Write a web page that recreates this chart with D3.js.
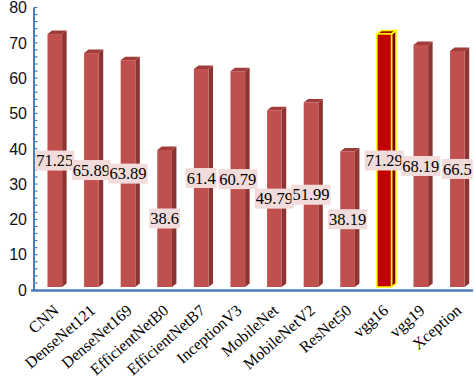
<!DOCTYPE html>
<html><head><meta charset="utf-8">
<script src="https://cdn.jsdelivr.net/npm/d3@7"></script>
<style>body{margin:0;background:#fff}svg{display:block}</style>
</head><body>
<script>
const categories = ["CNN","DenseNet121","DenseNet169","EfficientNetB0","EfficientNetB7","InceptionV3","MobileNet","MobileNetV2","ResNet50","vgg16","vgg19","Xception"];
const values = [71.25,65.89,63.89,38.6,61.4,60.79,49.79,51.99,38.19,71.29,68.19,66.5];
const labels = ["71.25","65.89","63.89","38.6","61.4","60.79","49.79","51.99","38.19","71.29","68.19","66.5"];
const highlight = ["vgg16"];
const yTicks = [0,10,20,30,40,50,60,70,80];

const W = 474, H = 380;
const svg = d3.select("body").append("svg").attr("width", W).attr("height", H);

const x = d3.scaleBand().domain(categories).range([36.5, 36.5 + 12*36.6]).paddingInner(0.6).paddingOuter(0.3);
const yAxisScale = d3.scaleLinear().domain([0,80]).range([290, 7.5]);
const yBar = d3.scaleLinear().domain([0,80]).range([287, 3]);

const dx = 4.5, dy = 3.5;
const g = svg.append("g");
categories.forEach((c,i)=>{
  const v = values[i];
  const x0 = x(c), bw = x.bandwidth();
  const yt = yBar(v), yb = yBar(0);
  const hl = highlight.includes(c);
  const front = hl ? "#c00000" : "#c0504d";
  const side = hl ? "#7a0000" : "#8c3432";
  const top = hl ? "#a00000" : "#a03c3a";
  g.append("path").attr("d", `M${x0+bw},${yt} L${x0+bw+dx},${yt-dy} L${x0+bw+dx},${yb-dy} L${x0+bw},${yb} Z`).attr("fill", side)
    .attr("stroke", hl ? "#ffff00" : "none").attr("stroke-width", hl?1.5:0);
  g.append("path").attr("d", `M${x0},${yt} L${x0+dx},${yt-dy} L${x0+bw+dx},${yt-dy} L${x0+bw},${yt} Z`).attr("fill", top)
    .attr("stroke", hl ? "#ffff00" : "none").attr("stroke-width", hl?1.5:0);
  g.append("rect").attr("x", x0).attr("y", yt).attr("width", bw).attr("height", yb-yt).attr("fill", front)
    .attr("stroke", hl ? "#ffff00" : "none").attr("stroke-width", hl?1.5:0);
});

const axG = svg.append("g");
axG.append("line").attr("x1",34).attr("x2",34).attr("y1",7.5).attr("y2",290).attr("stroke","#4a7ebb").attr("stroke-width",2);
d3.range(0,81,2).forEach(t=>{
  axG.append("line").attr("x1",34).attr("x2",37.5).attr("y1",yAxisScale(t)).attr("y2",yAxisScale(t)).attr("stroke","#4a7ebb").attr("stroke-width",1.2);
});
axG.append("line").attr("x1",31).attr("x2",473).attr("y1",290.5).attr("y2",290.5).attr("stroke","#4a7ebb").attr("stroke-width",2.5);

svg.append("g").selectAll("text").data(yTicks).join("text")
  .attr("x",27).attr("y",d=>yAxisScale(d)).attr("dy","0.36em").attr("text-anchor","end")
  .attr("font-family","'Liberation Sans', Arial, sans-serif").attr("font-size",16).attr("fill","#111")
  .text(d=>d);

const lg = svg.append("g");
categories.forEach((c,i)=>{
  const cx = x(c) + x.bandwidth()/2;
  const cy = (yBar(values[i]) + yBar(0))/2;
  const t = lg.append("text").attr("x",cx).attr("y",cy).attr("dy","0.35em").attr("text-anchor","middle")
    .attr("font-family","'Liberation Serif', 'Times New Roman', serif").attr("font-size",16.5).attr("fill","#000").text(labels[i]);
  const bb = t.node().getBBox();
  lg.insert("rect", () => t.node()).attr("x",bb.x-1).attr("y",cy-10).attr("width",bb.width+2).attr("height",20).attr("fill","#f2dcdb");
});

svg.append("g").selectAll("text").data(categories).join("text")
  .attr("transform", d=>`translate(${x(d)+x.bandwidth()/2+5},${312}) rotate(-41)`)
  .attr("text-anchor","end")
  .attr("font-family","'Liberation Serif', 'Times New Roman', serif").attr("font-size",16).attr("fill","#000")
  .text(d=>d);
</script>
</body></html>
